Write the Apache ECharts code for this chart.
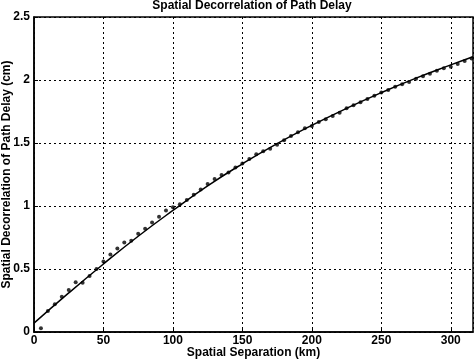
<!DOCTYPE html>
<html><head><meta charset="utf-8">
<script src="https://cdn.jsdelivr.net/npm/echarts@6/dist/echarts.min.js"></script>
<style>html,body{margin:0;padding:0;background:#fff}#c{width:474px;height:361px}</style>
</head><body><div id="c"></div>
<script>
var title = "Spatial Decorrelation of Path Delay";
var xName = "Spatial Separation (km)";
var yName = "Spatial Decorrelation of Path Delay (cm)";
var dotX = [5,10,15,20,25,30,35,40,45,50,55,60,65,70,75,80,85,90,95,100,105,110,115,120,125,130,135,140,145,150,155,160,165,170,175,180,185,190,195,200,205,210,215,220,225,230,235,240,245,250,255,260,265,270,275,280,285,290,295,300,305,310,315];
var dotY = [0.03,0.167,0.22,0.28,0.333,0.395,0.39,0.445,0.50,0.56,0.615,0.662,0.71,0.725,0.78,0.82,0.87,0.915,0.965,0.99,1.013,1.048,1.09,1.13,1.175,1.214,1.246,1.265,1.305,1.337,1.374,1.41,1.434,1.455,1.487,1.522,1.556,1.585,1.617,1.635,1.667,1.688,1.714,1.74,1.775,1.80,1.823,1.85,1.875,1.90,1.92,1.947,1.966,1.984,2.01,2.03,2.05,2.074,2.093,2.106,2.127,2.15,2.17];
var fitX = [0,25,50,75,100,125,150,175,200,225,250,275,300,316];
var fitY = [0.07,0.31,0.54,0.76,0.965,1.16,1.335,1.495,1.64,1.775,1.9,2.015,2.12,2.185];

var chart = echarts.init(document.getElementById('c'), null, {renderer:'canvas'});
var font = 'Liberation Sans';
var ts = {fontFamily:font,fontWeight:'bold',fontSize:12,color:'#000'};
chart.setOption({
  animation:false,
  title:{text:title,left:252,textAlign:'center',top:0,padding:0,textStyle:ts},
  grid:{left:34,right:1,top:17,bottom:29,outerBoundsMode:'none',containLabel:false,show:true,borderColor:'#000',borderWidth:1.5,backgroundColor:'#fff'},
  xAxis:{type:'value',min:0,max:316,interval:50,
    name:xName,nameLocation:'middle',nameGap:15,nameMoveOverlap:false,
    nameTextStyle:ts,
    axisLine:{show:true,onZero:false,lineStyle:{color:'#000',width:1.5}},
    axisTick:{show:true,inside:true,length:4,lineStyle:{color:'#000'}},
    axisLabel:{showMaxLabel:false,margin:3,fontFamily:font,fontWeight:'bold',fontSize:12,color:'#000'},
    splitLine:{show:true,lineStyle:{color:'#000',type:[2,3],width:1}}},
  yAxis:{type:'value',min:0,max:2.5,interval:0.5,
    name:yName,nameLocation:'middle',nameGap:21,nameMoveOverlap:false,
    nameTextStyle:ts,
    axisLine:{show:true,lineStyle:{color:'#000',width:1.5}},
    axisTick:{show:true,inside:true,length:4,lineStyle:{color:'#000'}},
    axisLabel:{margin:4,fontFamily:font,fontWeight:'bold',fontSize:12,color:'#000'},
    splitLine:{show:true,lineStyle:{color:'#000',type:[2,3],width:1}}},
  series:[
    {type:'line',data:fitX.map(function(x,i){return [x,fitY[i]];}),smooth:true,showSymbol:false,
     lineStyle:{color:'#000',width:1.5},z:3},
    {type:'scatter',data:dotX.map(function(x,i){return [x,dotY[i]];}),symbol:'circle',symbolSize:4,
     itemStyle:{color:'#000'},z:4}
  ]
});
</script></body></html>
